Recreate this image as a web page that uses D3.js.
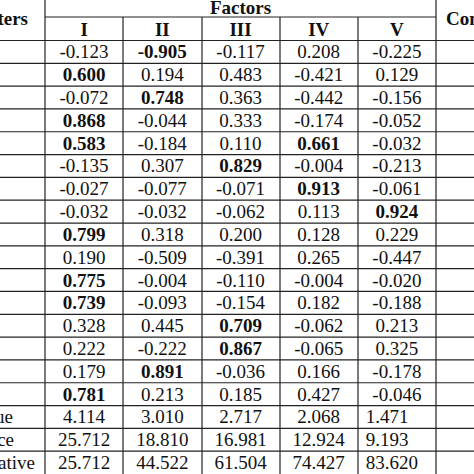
<!DOCTYPE html>
<html lang="en">
<head>
<meta charset="UTF-8">
<script src="https://d3js.org/d3.v7.min.js"></script>
<style>
  body { margin: 0; background: #fff; }
  text { font-family: 'Liberation Serif', 'Times New Roman', serif; font-size: 19px; fill: #111; }
  .b { font-weight: bold; }
</style>
</head>
<body>
<svg width="474" height="474"></svg>
<script>
var factors = ["I", "II", "III", "IV", "V"];
var loadings = [
  [-0.123, -0.905, -0.117, 0.208, -0.225],
  [0.600, 0.194, 0.483, -0.421, 0.129],
  [-0.072, 0.748, 0.363, -0.442, -0.156],
  [0.868, -0.044, 0.333, -0.174, -0.052],
  [0.583, -0.184, 0.110, 0.661, -0.032],
  [-0.135, 0.307, 0.829, -0.004, -0.213],
  [-0.027, -0.077, -0.071, 0.913, -0.061],
  [-0.032, -0.032, -0.062, 0.113, 0.924],
  [0.799, 0.318, 0.200, 0.128, 0.229],
  [0.190, -0.509, -0.391, 0.265, -0.447],
  [0.775, -0.004, -0.110, -0.004, -0.020],
  [0.739, -0.093, -0.154, 0.182, -0.188],
  [0.328, 0.445, 0.709, -0.062, 0.213],
  [0.222, -0.222, 0.867, -0.065, 0.325],
  [0.179, 0.891, -0.036, 0.166, -0.178],
  [0.781, 0.213, 0.185, 0.427, -0.046]
];
// bold (dominant) factor columns per row
var boldCols = [[1], [0], [1], [0], [0, 3], [2], [3], [4], [0], [], [0], [0], [2], [2], [1], [0]];
var summaryLabels = ["Eigenvalue", "% of Variance", "% Cumulative"];
var summaryEnds = [13, 14, 35];
var summary = [
  ["4.114", "3.010", "2.717", "2.068", "1.471"],
  ["25.712", "18.810", "16.981", "12.924", "9.193"],
  ["25.712", "44.522", "61.504", "74.427", "83.620"]
];

var svg = d3.select("svg");
var colEdges = [45, 123, 202, 280, 358, 436];
var x = d3.scaleBand().domain(factors).range([45, 436]);
var nRows = loadings.length + summary.length;
var y = d3.scaleBand().domain(d3.range(nRows)).range([40.5, 474]);

var g = svg.append("g").attr("stroke", "#222").attr("stroke-width", 1.2);
g.append("line").attr("x1", 45).attr("x2", 436).attr("y1", 17).attr("y2", 17);
d3.range(nRows).forEach(function(i) {
  g.append("line").attr("x1", 0).attr("x2", 474).attr("y1", y(i)).attr("y2", y(i));
});
colEdges.forEach(function(cx, i) {
  var top = (i === 0 || i === colEdges.length - 1) ? 0 : 17;
  g.append("line").attr("x1", cx).attr("x2", cx).attr("y1", top).attr("y2", 474);
});

svg.append("text").attr("class", "b").attr("x", 240.5).attr("y", 14).attr("text-anchor", "middle").text("Factors");
svg.append("text").attr("class", "b").attr("x", 28).attr("y", 25).attr("text-anchor", "end").text("Parameters");
svg.append("text").attr("class", "b").attr("x", 446).attr("y", 25).text("Communality");
svg.selectAll(".fh").data(factors).enter().append("text")
  .attr("class", "b").attr("x", function(d) { return x(d) + x.bandwidth() / 2; })
  .attr("y", 36).attr("text-anchor", "middle").text(function(d) { return d; });

loadings.forEach(function(row, i) {
  row.forEach(function(v, j) {
    svg.append("text")
      .attr("class", boldCols[i].indexOf(j) >= 0 ? "b" : null)
      .attr("x", x(factors[j]) + x.bandwidth() / 2)
      .attr("y", y(i) + y.bandwidth() / 2 + 6.5)
      .attr("text-anchor", "middle")
      .text(v.toFixed(3));
  });
});

summary.forEach(function(row, k) {
  var i = loadings.length + k;
  svg.append("text").attr("x", summaryEnds[k]).attr("y", y(i) + y.bandwidth() / 2 + 6.5)
    .attr("text-anchor", "end").text(summaryLabels[k]);
  row.forEach(function(v, j) {
    var last = j === factors.length - 1;
    svg.append("text")
      .attr("x", last ? x(factors[j]) + 8 : x(factors[j]) + x.bandwidth() / 2)
      .attr("y", y(i) + y.bandwidth() / 2 + 6.5)
      .attr("text-anchor", last ? "start" : "middle")
      .text(v);
  });
});
</script>
</body>
</html>
